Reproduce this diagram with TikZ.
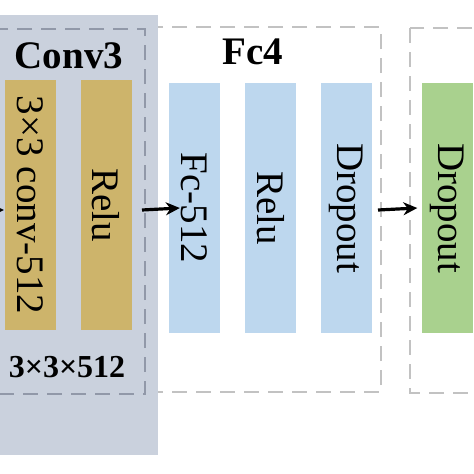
\documentclass[tikz,border=0pt]{standalone}
\usepackage{fontspec}
\setmainfont{Liberation Serif}
\usetikzlibrary{arrows.meta,positioning}
\definecolor{convfill}{HTML}{CDB46B}
\definecolor{fcfill}{HTML}{BDD7EE}
\definecolor{dropfill}{HTML}{A9D18E}
\definecolor{panelfill}{HTML}{CAD1DD}
\definecolor{framedark}{HTML}{9198A8}
\definecolor{framelight}{HTML}{C2C2C2}
\tikzset{
  layer/.style={rotate=-90,minimum width=250pt,minimum height=51pt,inner sep=0pt,
    font=\fontsize{39}{44}\selectfont},
  frame/.style={draw=framelight,line width=1.8pt,dash pattern=on 15pt off 9pt},
  title/.style={font=\fontsize{39}{44}\selectfont\bfseries,inner sep=0pt},
  flow/.style={line width=3.2pt,-{Stealth[length=14pt,width=13pt]}}
}
\begin{document}
\begin{tikzpicture}[x=1pt,y=-1pt]
  \useasboundingbox (0,0) rectangle (474,474);
  % frames behind the panel
  \draw[frame] (153,27) rectangle (381,392);
  \draw[frame] (410,28) rectangle (520,393);
  \coordinate (fc4out) at (381,210);
  % conv3 panel
  \fill[panelfill] (-10,15) rectangle (158,455);
  \draw[frame,draw=framedark] (-20,29) rectangle (145,394);
  \coordinate (convout) at (145,210);
  \coordinate (convin) at (-20,210);
  \node[title] (conv3) at (69,56) {Conv3};
  \node[layer,fill=convfill] (conv) at (30.5,205) {3×3 conv-512};
  \node[layer,fill=convfill] (relu1) at (106,205) {Relu};
  \node[title,font=\fontsize{32}{36}\selectfont\bfseries] (shape) at (67,367) {3×3×512};
  % fc4
  \node[title] (fc4) at (253,52) {Fc4};
  \node[layer,fill=fcfill] (fc512) at (194.5,208) {Fc-512};
  \node[layer,fill=fcfill] (relu2) at (270.5,208) {Relu};
  \node[layer,fill=fcfill] (drop1) at (346.5,208) {Dropout};
  % next block
  \node[layer,fill=dropfill] (drop2) at (447,208) {Dropout};
  % connectors
  \draw[flow] (convin) -- ([xshift=24pt]convin);
  \draw[flow] ([xshift=-3pt]convout) -- ([xshift=11pt]fc512.south);
  \draw[flow] ([xshift=-3pt]fc4out) -- ([xshift=-4pt]drop2.south);
\end{tikzpicture}
\end{document}
